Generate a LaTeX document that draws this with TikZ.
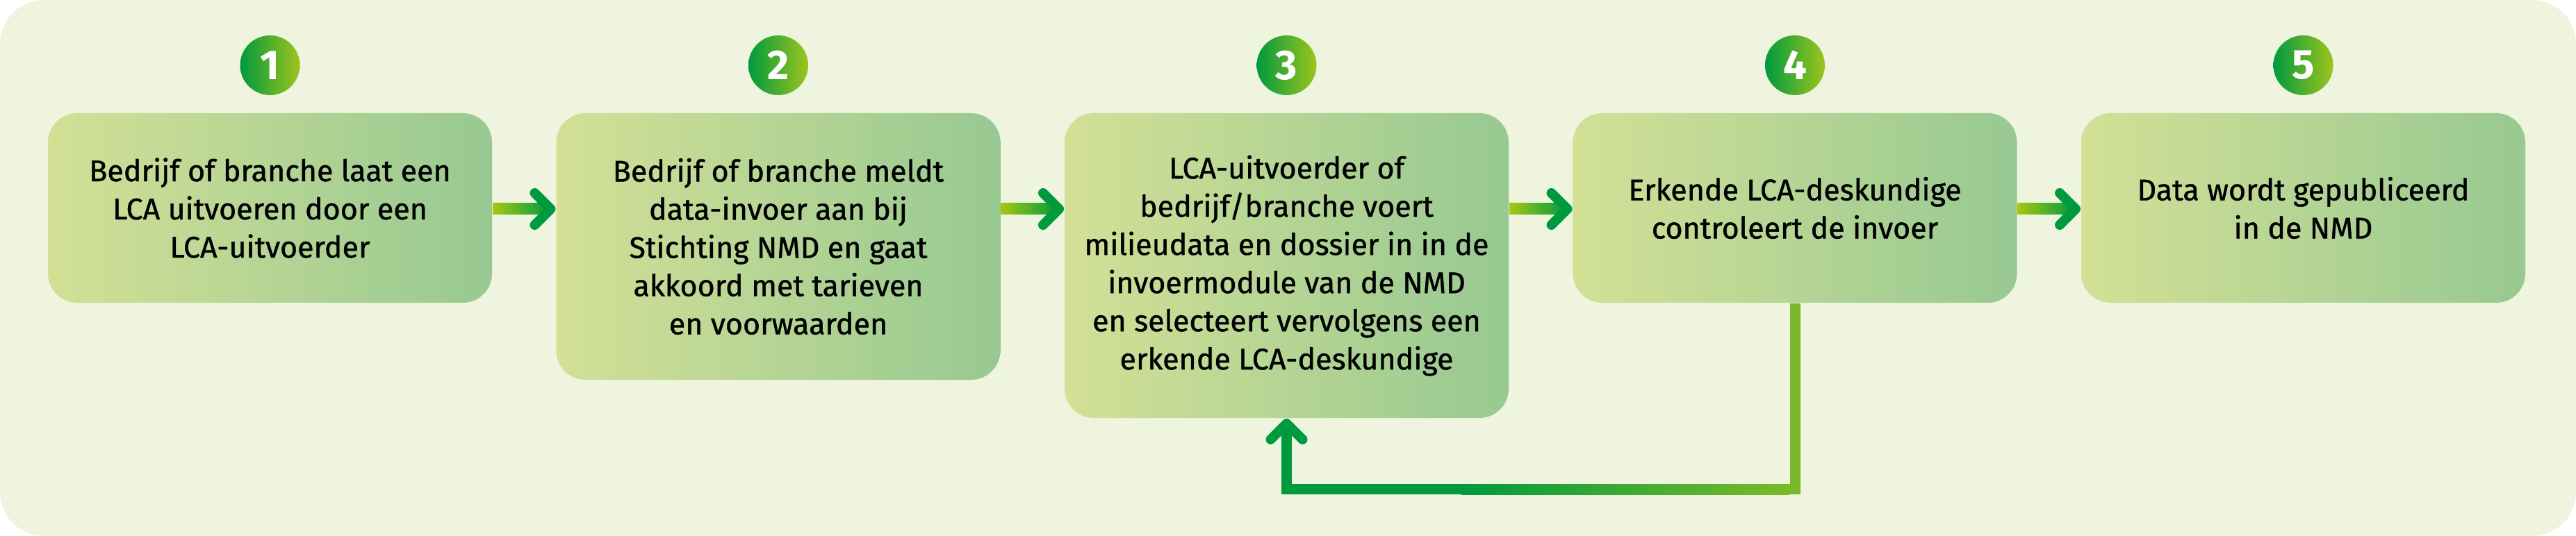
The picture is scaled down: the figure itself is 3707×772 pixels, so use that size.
\documentclass[tikz,border=0pt]{standalone}
\usepackage{fontspec}
\setmainfont{Fira Sans}
\newfontfamily\boxfont{Fira Sans}[FakeBold=1]
\usetikzlibrary{calc}
\definecolor{bg}{HTML}{EFF4DF}
\definecolor{boxL}{HTML}{D3E096}
\definecolor{boxR}{HTML}{97C992}
\definecolor{dgreen}{HTML}{009A3E}
\definecolor{ygreen}{HTML}{A6C713}
\definecolor{fgreen}{HTML}{7BB929}
\definecolor{cyellow}{HTML}{9DC41C}
\begin{document}
\begin{tikzpicture}[x=0.2pt,y=-0.2pt,
 stepbox/.style={rounded corners=8.4pt, left color=boxL, right color=boxR, minimum width=127.8pt, anchor=north, align=center, font=\boxfont\fontsize{8.6pt}{11pt}\selectfont, inner sep=0pt, text=black},
 numcirc/.style={circle, minimum size=17.2pt, inner sep=0pt, left color=dgreen, right color=cyellow, text=white, font=\fontsize{12pt}{12pt}\selectfont\bfseries},
 chev/.style={draw=dgreen, line width=2.8pt, line cap=round, line join=round},
 fbline/.style={draw=dgreen, line width=3pt, line join=miter}
]
\fill[bg, rounded corners=12.6pt] (0,0) rectangle (3707,772);
\useasboundingbox (0,0) rectangle (3707,772);
\coordinate (top) at (0,94);
\coordinate (ay) at (0,301);
\coordinate (fy) at (0,704.5);

\node[stepbox, minimum height=54.6pt] (b1) at (388.5,162) {Bedrijf of branche laat een\\LCA uitvoeren door een\\LCA-uitvoerder};
\node[stepbox, minimum height=76.8pt] (b2) at (1120,162) {Bedrijf of branche meldt\\data-invoer aan bij\\Stichting NMD en gaat\\akkoord met tarieven\\en voorwaarden};
\node[stepbox, minimum height=87.8pt] (b3) at (1851.5,162) {LCA-uitvoerder of\\bedrijf/branche voert\\milieudata en dossier in in de\\invoermodule van de NMD\\en selecteert vervolgens een\\erkende LCA-deskundige};
\node[stepbox, minimum height=54.6pt] (b4) at (2583,162) {Erkende LCA-deskundige\\controleert de invoer};
\node[stepbox, minimum height=54.6pt] (b5) at (3314.5,162) {Data wordt gepubliceerd\\in de NMD};

\foreach \i in {1,...,5}{
  \node[numcirc] (n\i) at (b\i.north |- top) {\i};
}

\foreach \a/\b in {b1/b2,b2/b3,b3/b4,b4/b5}{
  \shade[left color=ygreen, right color=dgreen] ($(\a.east |- ay)+(0,-8)$) rectangle ($(\b.west |- ay)+(-9,8)$);
  \draw[chev] ($(\b.west |- ay)+(-30,-23)$) -- ($(\b.west |- ay)+(-7,0)$) -- ($(\b.west |- ay)+(-30,23)$);
}

\coordinate (fR) at (b4.south |- fy);
\coordinate (fL) at (b3.south |- fy);
\draw[fbline] (b4.south) -- (fR) -- (fL) -- ($(b3.south)+(0,7)$);
\fill[fgreen] ($(b4.south)+(-7.5,0)$) rectangle ($(fR)+(7.5,7.5)$);
\shade[left color=dgreen, right color=fgreen] ($(fR)+(-480,-7.5)$) rectangle ($(fR)+(-7.5,7.5)$);
\draw[chev] ($(b3.south)+(-23,30)$) -- ($(b3.south)+(0,7)$) -- ($(b3.south)+(23,30)$);
\end{tikzpicture}
\end{document}
